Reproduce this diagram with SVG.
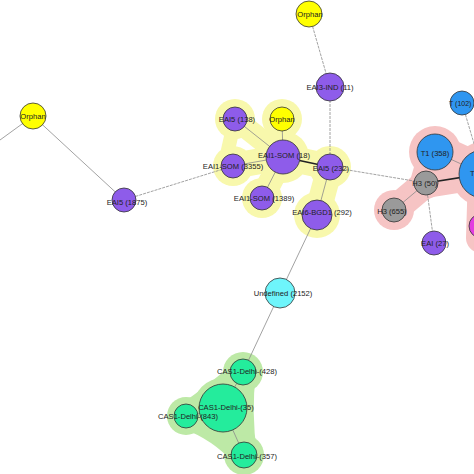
<svg xmlns="http://www.w3.org/2000/svg" width="474" height="474" viewBox="0 0 474 474">
<style>
.n{stroke:#333;stroke-width:0.8}
.pu{fill:#8e5cea}.ye{fill:#ffff00}.bl{fill:#2f96f0}.gr{fill:#9a9a9a}.cy{fill:#6ef5fb}.gn{fill:#24ec9c}.mg{fill:#e23ee0}
.e{stroke:#8a8a8a;stroke-width:0.8;fill:none}
.d{stroke:#8a8a8a;stroke-width:0.8;stroke-dasharray:3 1;fill:none}
.k{stroke:#222;stroke-width:1.6;fill:none}
.hy{stroke:#f8f8ac;fill:#f8f8ac;stroke-linecap:round;stroke-linejoin:round}
.hp{stroke:#f6c4c4;fill:#f6c4c4;stroke-linecap:round;stroke-linejoin:round}
.hg{stroke:#bde9a6;fill:#bde9a6;stroke-linecap:round;stroke-linejoin:round}
text{font-family:"Liberation Sans",Arial,sans-serif;font-size:7.6px;fill:#222;text-anchor:middle;dominant-baseline:central}
</style>
<rect width="474" height="474" fill="#ffffff"/>
<g id="hulls">
<g id="hull-yellow">
<path class="hy" style="stroke-width:22" d="M283,157 L235,119"/>
<path class="hy" style="stroke-width:24" d="M283,157 L282,119"/>
<path class="hy" style="stroke-width:26" d="M283,157 L233,166"/>
<path class="hy" style="stroke-width:24" d="M283,157 L262,198"/>
<path class="hy" style="stroke-width:26" d="M283,157 L330,167"/>
<path class="hy" style="stroke-width:26" d="M330,167 L317,215"/>
<path class="hy" style="stroke-width:14" d="M235,119 L228,150"/>
<circle class="hy" style="stroke-width:0" cx="235" cy="119" r="20"/>
<circle class="hy" style="stroke-width:0" cx="282" cy="119" r="20"/>
<circle class="hy" style="stroke-width:0" cx="283" cy="157" r="26"/>
<circle class="hy" style="stroke-width:0" cx="233" cy="166" r="20"/>
<circle class="hy" style="stroke-width:0" cx="262" cy="198" r="20"/>
<circle class="hy" style="stroke-width:0" cx="330" cy="167" r="21"/>
<circle class="hy" style="stroke-width:0" cx="317" cy="215" r="23"/>
</g>
<g id="hull-pink">
<path class="hp" style="stroke-width:28" d="M394,210 L426,183"/>
<path class="hp" style="stroke-width:30" d="M426,183 L483,174"/>
<path class="hp" style="stroke-width:38" d="M435,152 L483,174"/>
<path class="hp" style="stroke-width:32" d="M435,152 L426,183"/>
<path class="hp" style="stroke-width:30" d="M483,174 L481,238"/>
<circle class="hp" style="stroke-width:0" cx="394" cy="210" r="20"/>
<circle class="hp" style="stroke-width:0" cx="435" cy="152" r="26"/>
<circle class="hp" style="stroke-width:0" cx="483" cy="174" r="32"/>
</g>
<g id="hull-green">
<path class="hg" style="stroke-width:26" d="M243,372 Q214,398 186,416 Q220,428 244,455 Q238,412 243,372 Z"/>
<circle class="hg" style="stroke-width:0" cx="243" cy="372" r="20"/>
<circle class="hg" style="stroke-width:0" cx="223" cy="408" r="30"/>
<circle class="hg" style="stroke-width:0" cx="186" cy="416" r="19"/>
<circle class="hg" style="stroke-width:0" cx="244" cy="455" r="20"/>
</g>
</g>
<g id="connectors">
<line class="e" x1="0" y1="140" x2="33" y2="116"/>
<line class="e" x1="33" y1="116" x2="124" y2="200"/>
<line class="d" x1="124" y1="200" x2="233" y2="166"/>
<line class="e" x1="283" y1="157" x2="235" y2="119"/>
<line class="e" x1="283" y1="157" x2="282" y2="119"/>
<line class="e" x1="283" y1="157" x2="233" y2="166"/>
<line class="e" x1="283" y1="157" x2="262" y2="198"/>
<line class="k" x1="283" y1="157" x2="330" y2="167"/>
<line class="d" x1="330" y1="167" x2="330" y2="87"/>
<line class="d" x1="330" y1="87" x2="309" y2="14"/>
<line class="e" x1="330" y1="167" x2="317" y2="215"/>
<line class="d" x1="330" y1="167" x2="426" y2="183"/>
<line class="e" x1="317" y1="215" x2="280" y2="293"/>
<line class="e" x1="280" y1="293" x2="243" y2="372"/>
<line class="e" x1="243" y1="372" x2="223" y2="408"/>
<line class="e" x1="223" y1="408" x2="186" y2="416"/>
<line class="e" x1="223" y1="408" x2="244" y2="455"/>
<line class="e" x1="426" y1="183" x2="394" y2="210"/>
<line class="k" x1="426" y1="183" x2="483" y2="174"/>
<line class="d" x1="426" y1="183" x2="434" y2="243"/>
<line class="e" x1="435" y1="152" x2="483" y2="174"/>
<line class="d" x1="462" y1="103" x2="483" y2="174"/>
</g>
<g id="node-orphan-top"><circle class="n ye" cx="309" cy="14" r="13"/><text x="310" y="14">Orphan</text></g>
<g id="node-eai3-ind"><circle class="n pu" cx="330" cy="87" r="14"/><text x="330" y="87">EAI3-IND (11)</text></g>
<g id="node-orphan-left"><circle class="n ye" cx="33" cy="116" r="13"/><text x="33" y="116">Orphan</text></g>
<g id="node-eai5-1875"><circle class="n pu" cx="124" cy="200" r="12"/><text x="127" y="202">EAI5 (1875)</text></g>
<g id="node-eai5-138"><circle class="n pu" cx="235" cy="119" r="12"/><text x="237" y="119">EAI5 (138)</text></g>
<g id="node-orphan-mid"><circle class="n ye" cx="282" cy="119" r="12"/><text x="282" y="119">Orphan</text></g>
<g id="node-eai1-som-18"><circle class="n pu" cx="283" cy="157" r="17"/><text x="284" y="155">EAI1-SOM (18)</text></g>
<g id="node-eai1-som-3355"><circle class="n pu" cx="233" cy="166" r="12"/><text x="233" y="166">EAI1-SOM (3355)</text></g>
<g id="node-eai5-232"><circle class="n pu" cx="330" cy="167" r="13"/><text x="331" y="168">EAI5 (232)</text></g>
<g id="node-eai1-som-1389"><circle class="n pu" cx="262" cy="198" r="12"/><text x="264" y="198">EAI1-SOM (1389)</text></g>
<g id="node-eai6-bgd1"><circle class="n pu" cx="317" cy="215" r="15"/><text x="322" y="212">EAI6-BGD1 (292)</text></g>
<g id="node-t1"><circle class="n bl" cx="435" cy="152" r="18"/><text x="435" y="153">T1 (358)</text></g>
<g id="node-t102"><circle class="n bl" cx="462" cy="103" r="12"/><text x="449" y="103" style="text-anchor:start;font-size:7px">T (102)</text></g>
<g id="node-t-big"><circle class="n bl" cx="483" cy="174" r="24"/><text x="470" y="173" style="text-anchor:start">T</text></g>
<g id="node-magenta"><circle class="n mg" cx="481" cy="226" r="12"/></g>
<g id="node-h3-50"><circle class="n gr" cx="426" cy="183" r="12"/><text x="425" y="183">H3 (50)</text></g>
<g id="node-h3-655"><circle class="n gr" cx="394" cy="210" r="12"/><text x="392" y="211">H3 (655)</text></g>
<g id="node-eai-27"><circle class="n pu" cx="434" cy="243" r="12"/><text x="435" y="243">EAI (27)</text></g>
<g id="node-undefined"><circle class="n cy" cx="280" cy="293" r="15"/><text x="283" y="293">Undefined (2152)</text></g>
<g id="node-cas1-428"><circle class="n gn" cx="243" cy="372" r="13"/><text x="247" y="371">CAS1-Delhi-(428)</text></g>
<g id="node-cas1-35"><circle class="n gn" cx="223" cy="408" r="24"/><text x="226" y="407">CAS1-Delhi-(35)</text></g>
<g id="node-cas1-843"><circle class="n gn" cx="186" cy="416" r="12"/><text x="188" y="416">CAS1-Delhi-(843)</text></g>
<g id="node-cas1-357"><circle class="n gn" cx="244" cy="455" r="13"/><text x="247" y="456">CAS1-Delhi-(357)</text></g>
</svg>
